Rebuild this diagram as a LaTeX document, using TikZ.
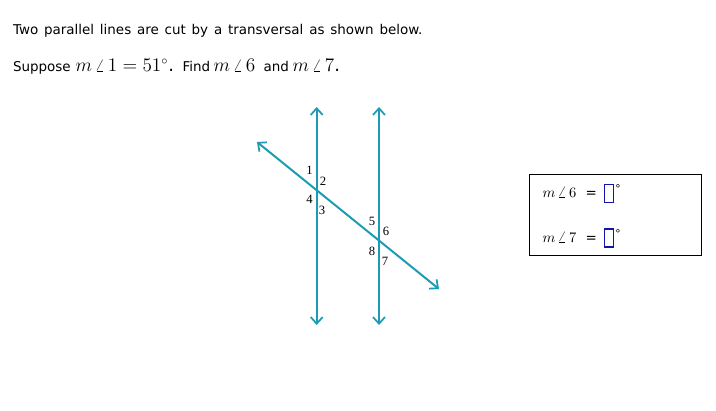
\documentclass[tikz,border=0pt]{standalone}
\usepackage{fontspec}
\setmainfont{DejaVu Sans}
\newfontfamily\numfont{Liberation Serif}
\usetikzlibrary{arrows.meta}

\definecolor{lineteal}{RGB}{28,156,178}
\definecolor{boxblue}{RGB}{20,20,170}

\tikzset{every picture/.style={line width=0.75pt}}
\tikzset{
  geoline/.style={draw=lineteal, line width=1.5pt, {Straight Barb[length=5pt,width=9pt,line width=1.3pt]}-{Straight Barb[length=5pt,width=9pt,line width=1.3pt]}},
  anglabel/.style={inner sep=0.75pt, font=\numfont\fontsize{9.5}{10}\selectfont},
  bodytext/.style={anchor=base west, inner sep=0pt, font=\fontsize{10.1}{12}\selectfont},
  mathtext/.style={anchor=base west, inner sep=0pt, font=\fontsize{13.5}{15}\selectfont},
  paneltext/.style={anchor=base west, inner sep=0pt, font=\fontsize{10.8}{12}\selectfont},
  ansbox/.style={draw=boxblue, line width=0.9pt, minimum width=6.5pt, minimum height=13.5pt, inner sep=0pt}
}
\newcommand{\mang}[1]{$m\,\angle\,#1$}

\begin{document}
\begin{tikzpicture}[x=0.75pt,y=0.75pt,yscale=-1,xscale=1]
\useasboundingbox (0,0) rectangle (716,410);

% question text
\node [bodytext] (qone) at (12.5,35) {\makebox[307pt][s]{Two parallel lines are cut by a transversal as shown below.}};
\node [bodytext] (qsup) at (12.5,71) {Suppose};
\node [mathtext] (qgiven) at (75,71) {$m\,\angle\,1 = 51^\circ$.};
\node [bodytext] (qfind) at (182,71) {Find};
\node [mathtext] (qsix) at (213,71) {\mang{6}};
\node [bodytext] (qand) at (263,71) {and};
\node [mathtext] (qseven) at (292,71) {\mang{7}.};

% end points of the lines
\coordinate (ptop) at (316.7,107);
\coordinate (pbot) at (316.7,325);
\coordinate (qtop) at (379,107);
\coordinate (qbot) at (379,325);
\coordinate (tleft) at (257,142);
\coordinate (tright) at (439,289);

% parallel lines and transversal
\draw [geoline] (ptop) -- (pbot);
\draw [geoline] (qtop) -- (qbot);
\draw [geoline] (tleft) -- (tright);

% angle numbers
\node [anglabel] (a1) at (309.5,170) {1};
\node [anglabel] (a2) at (323,181) {2};
\node [anglabel] (a4) at (309.5,199.5) {4};
\node [anglabel] (a3) at (322,210) {3};
\node [anglabel] (a5) at (372,221.5) {5};
\node [anglabel] (a6) at (386,231) {6};
\node [anglabel] (a8) at (372,251) {8};
\node [anglabel] (a7) at (385,261) {7};

% answer panel
\draw [line width=0.9pt] (529.5,174.5) rectangle (701.5,255.5);
\node [paneltext] (six) at (542,197.5) {\mang{6}};
\node [bodytext] (eqsix) at (585,197.5) {=};
\node [ansbox] (boxsix) at (609,193.5) {};
\node [inner sep=0pt, font=\fontsize{8}{9}\selectfont] (degsix) at (618,189) {°};
\node [paneltext] (seven) at (542,242.5) {\mang{7}};
\node [bodytext] (eqseven) at (585,242.5) {=};
\node [ansbox] (boxseven) at (609,238) {};
\node [inner sep=0pt, font=\fontsize{8}{9}\selectfont] (degseven) at (618,233.5) {°};

\end{tikzpicture}
\end{document}
